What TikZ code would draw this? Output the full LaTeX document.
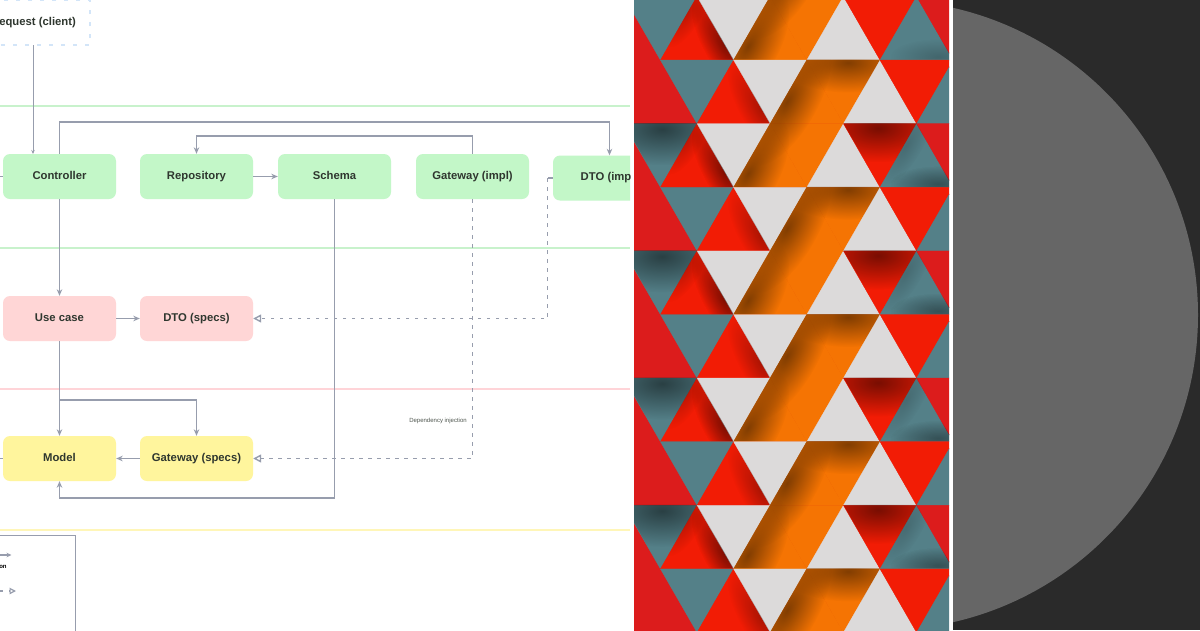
\documentclass[tikz,border=0pt]{standalone}
\usepackage{fontspec}
\setmainfont{Liberation Sans}
\usetikzlibrary{arrows.meta,fadings,calc}
\definecolor{nodegreen}{HTML}{C3F7C8}
\definecolor{nodepink}{HTML}{FFD6D6}
\definecolor{nodeyellow}{HTML}{FFF59D}
\definecolor{linegreen}{HTML}{C8F2CC}
\definecolor{linepink}{HTML}{FFD4D8}
\definecolor{lineyellow}{HTML}{FFF6B8}
\definecolor{wire}{HTML}{979DAD}
\definecolor{inktext}{HTML}{2F372F}
\definecolor{boxblue}{HTML}{D3E5F8}
\definecolor{dkred}{HTML}{DC1C1C}
\definecolor{brred}{HTML}{F21C05}
\definecolor{teal}{HTML}{548088}
\definecolor{paleg}{HTML}{DCDADA}
\definecolor{orng}{HTML}{F57403}
\definecolor{panelbg}{HTML}{2A2A2A}
\definecolor{disc}{HTML}{666666}
\tikzfading[name=softdot,inner color=transparent!0,outer color=transparent!100]
\tikzset{
  x=1pt,y=-1pt,
  box/.style={rounded corners=7pt,minimum width=113pt,minimum height=45pt,inner sep=0pt,
    text=inktext,font=\fontsize{11.3}{13}\selectfont\bfseries,text height=7pt,text depth=2pt},
  gbox/.style={box,fill=nodegreen},
  pbox/.style={box,fill=nodepink},
  ybox/.style={box,fill=nodeyellow},
  sep/.style={line width=1.8pt},
  solidwire/.style={draw=wire,line width=1.8pt,-{Stealth[length=6.5pt,width=5.5pt]}},
  plainwire/.style={draw=wire,line width=1.8pt},
  dashwire/.style={draw=wire,line width=1.6pt,dash pattern=on 3.5pt off 5.5pt,
    -{Triangle[open,length=8pt,width=8pt,line width=1.4pt]}},
  blob/.style={path fading=softdot}
}
\newcommand{\triRow}[2]{%
  \foreach \i/\c in {0/dkred,1/teal,2/brred,3/paleg,4/orng,5/orng,6/paleg,7/brred,8/teal,9/dkred}{
    \pgfmathsetmacro{\X}{#1+36.6*\i}
    \pgfmathsetmacro{\Yb}{#2+63.6}
    \pgfmathparse{int(mod(\i,2))}
    \ifnum\pgfmathresult=0
      \fill[\c,draw=\c,line width=.25pt] (\X,#2) -- ({\X-36.6},\Yb) -- ({\X+36.6},\Yb) -- cycle;
    \else
      \fill[\c,draw=\c,line width=.25pt] ({\X-36.6},#2) -- ({\X+36.6},#2) -- (\X,\Yb) -- cycle;
    \fi
  }}
\newcommand{\softblob}[7]{% x y rx ry angle colour opacity
  \begin{scope}[transform canvas={shift={(#1,#2)},rotate=#5}]
    \fill[#6,opacity=#7,blob] (0,0) ellipse [x radius=2*#3pt,y radius=2*#4pt];
  \end{scope}}
\begin{document}
\begin{tikzpicture}
\useasboundingbox (0,0) rectangle (1200,630);
\fill[white] (0,0) rectangle (1200,630);

% right panel
\begin{scope}
  \clip (953,0) rectangle (1200,630);
  \fill[panelbg] (953,0) rectangle (1200,630);
  \fill[disc] (883,315) circle [radius=315pt];
\end{scope}

% triangle panel
\begin{scope}
  \clip (634,0) rectangle (949,630);
  \fill[dkred] (634,0) rectangle (949,630);
  \foreach \k in {0,2,4,6,8}{
    \pgfmathsetmacro{\Ya}{-3.5+63.6*\k}
    \pgfmathsetmacro{\Yc}{-3.5+63.6*(\k+1)}
    \triRow{623.8}{\Ya}
    \triRow{660.4}{\Yc}
  }
  \triRow{623.8}{632.5}
  \foreach \p in {-1,0,1,2,3,4}{
    \pgfmathsetmacro{\Y}{59.6+127.2*\p}
    \pgfmathsetmacro{\Yh}{\Y+63.6}
    \pgfmathsetmacro{\Yf}{\Y+127.2}
    % orange band
    \begin{scope}
      \clip (806.8,\Y) -- (880,\Y) -- (806.8,\Yf) -- (733.6,\Yf) -- cycle;
      \softblob{848}{\Y+3}{33}{15}{0}{black!55!orng}{.85}
      \softblob{787}{\Y+42}{36}{15}{60}{black!55!orng}{.85}
      \softblob{748}{\Y+114}{32}{15}{60}{black!55!orng}{.85}
    \end{scope}
    % red triangles, right-hand shade
    \begin{scope}
      \clip (733.6,\Y) -- (696.9,\Yh) -- (770.2,\Yh) -- cycle;
      \softblob{760}{\Yh-14}{28}{10}{-60}{black}{.28}
    \end{scope}
    \begin{scope}
      \clip (697,\Yh) -- (660.4,\Yf) -- (733.6,\Yf) -- cycle;
      \softblob{724}{\Yf-14}{28}{10}{-60}{black}{.28}
      \softblob{686}{\Yh+16}{20}{8}{60}{black}{.22}
    \end{scope}
    \begin{scope}
      \clip (697,\Y-63.6) -- (660.4,\Y) -- (733.6,\Y) -- cycle;
      \softblob{724}{\Y-14}{28}{10}{-60}{black}{.25}
    \end{scope}
    % dark shades at the row tops
    \ifnum\p>-1
    \begin{scope}
      \clip (843.4,\Yh) -- (916.6,\Yh) -- (880,\Yf) -- cycle;
      \softblob{878}{\Yh+5}{34}{17}{0}{black}{.5}
    \end{scope}
    \begin{scope}
      \clip (623.8,\Yh) -- (697,\Yh) -- (660.4,\Yf) -- cycle;
      \softblob{662}{\Yh+6}{36}{18}{0}{black}{.5}
    \end{scope}
    \begin{scope}
      \clip (916.6,\Yh) -- (880,\Yf) -- (953.2,\Yf) -- cycle;
      \softblob{906}{\Yh+22}{22}{8}{60}{black}{.16}
      \softblob{938}{\Yf-3}{24}{9}{0}{black}{.2}
    \end{scope}
    \fi
    \begin{scope}
      \clip (916.6,\Y-63.6) -- (880,\Y) -- (953.2,\Y) -- cycle;
      \softblob{938}{\Y-3}{24}{9}{0}{black}{.2}
    \end{scope}
  }
\end{scope}

% diagram
\begin{scope}
  \clip (0,0) rectangle (630,630);
  \draw[sep,linegreen] (0,106) -- (630,106);
  \draw[sep,linegreen] (0,247.8) -- (630,247.8);
  \draw[sep,linepink] (0,389) -- (630,389);
  \draw[sep,lineyellow] (0,530) -- (630,530);

  \node[draw=boxblue,line width=2pt,dash pattern=on 4pt off 8pt,minimum width=113pt,minimum height=45pt,inner sep=0pt,
    text=inktext,font=\fontsize{11.3}{13}\selectfont\bfseries,text height=7pt,text depth=2pt] (req) at (33.5,22.5) {Request (client)};

  \node[gbox] (ctrl) at (59.5,176.5) {Controller};
  \node[gbox] (repo) at (196.5,176.5) {Repository};
  \node[gbox] (schema) at (334.5,176.5) {Schema};
  \node[gbox] (gwi) at (472.5,176.5) {Gateway (impl)};
  \node[gbox] (dtoi) at (609.5,178) {DTO (impl)};
  \node[pbox] (uc) at (59.5,318.5) {Use case};
  \node[pbox] (dtos) at (196.5,318.5) {DTO (specs)};
  \node[ybox] (model) at (59.5,458.5) {Model};
  \node[ybox] (gws) at (196.5,458.5) {Gateway (specs)};

  \node[inner sep=0pt,text=inktext!85,font=\fontsize{6}{7}\selectfont] (dep) at (438,420.5) {Dependency injection};

  % request
  \draw[draw=wire,line width=.9pt,-{Stealth[length=4pt,width=3.5pt]}] (33,45) -- (33,154);

  \coordinate (topa) at (0,122);
  \coordinate (topb) at (0,136);
  \coordinate (low) at (0,498);
  \draw[solidwire] (ctrl.north) -- (ctrl.north |- topa) -- (dtoi.north |- topa) -- (dtoi.north);
  \draw[solidwire] (gwi.north) -- (gwi.north |- topb) -- (repo.north |- topb) -- (repo.north);
  \draw[solidwire] (repo.east) -- (schema.west);
  \draw[solidwire] (ctrl.south) -- (uc.north);
  \draw[solidwire] (uc.east) -- (dtos.west);
  \draw[solidwire] (uc.south) -- (model.north);
  \coordinate (branch) at (59.5,400);
  \draw[solidwire] (branch) -| (gws.north);
  \draw[solidwire] (gws.west) -- (model.east);
  \draw[solidwire] (schema.south) -- (schema.south |- low) -- (model.south |- low) -- (model.south);

  % dashed
  \draw[dashwire] (gwi.south) |- (gws.east);
  \coordinate (kink) at (547.5,178);
  \draw[draw=wire,line width=1.2pt] (dtoi.west) -- (kink);
  \draw[dashwire] (kink) |- (dtos.east);

  % stubs at the left edge
  \coordinate (stubc) at (0,176.5);
  \coordinate (stubm) at (0,458.5);
  \draw[plainwire] (stubc) -- (ctrl.west);
  \draw[plainwire] (stubm) -- (model.west);

  % legend
  \node[draw=wire,line width=1pt,minimum width=150pt,minimum height=110pt,inner sep=0pt] (legend) at (0,590) {};
  \coordinate (lega) at (0,555);
  \coordinate (legb) at (11.5,555);
  \draw[draw=wire,line width=1.4pt,-{Stealth[length=5pt,width=4.5pt]}] (lega) -- (legb);
  \coordinate (legc) at (0,591);
  \coordinate (legd) at (3,591);
  \draw[draw=wire,line width=1.4pt] (legc) -- (legd);
  \coordinate (lege) at (9,591);
  \coordinate (legf) at (16,591);
  \draw[draw=wire,line width=1.2pt,-{Triangle[open,length=6.5pt,width=6.5pt]}] (lege) -- (legf);
  \node[anchor=east,inner sep=0pt,text=black,font=\fontsize{6}{7}\selectfont\bfseries] (legt) at (6.8,567) {on};
\end{scope}
\end{tikzpicture}
\end{document}
